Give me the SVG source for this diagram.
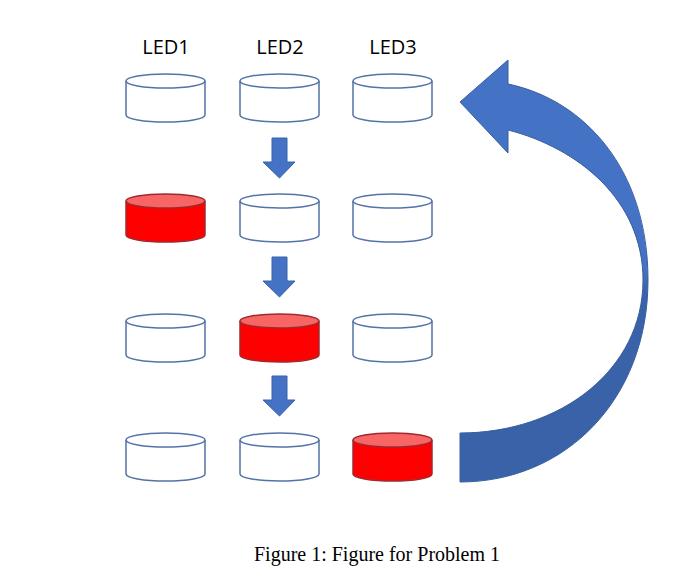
<svg xmlns="http://www.w3.org/2000/svg" width="700" height="583" viewBox="0 0 700 583">
<style>
.w path{fill:#fff;stroke:#5373a6;stroke-width:1.5}
.w ellipse{fill:#fff;stroke:#5373a6;stroke-width:1.5}
.r path{fill:#ff0000;stroke:#9e2a2f;stroke-width:1.5}
.r ellipse{fill:#f76565;stroke:#9e2a2f;stroke-width:1.5}
.lbl{font-family:"Open Sans","Liberation Sans",sans-serif;font-size:20px;fill:#000;text-anchor:middle}
.dn{fill:#4472c4;stroke:#3a62a8;stroke-width:1}
</style>
<defs><linearGradient id="g" x1="0" y1="0" x2="0" y2="1"><stop offset="0.5" stop-color="#4472c4"/><stop offset="0.55" stop-color="#3a62a8"/></linearGradient></defs>
<rect width="700" height="583" fill="#fff"/>
<text class="lbl" x="166" y="54">LED1</text>
<text class="lbl" x="280" y="54">LED2</text>
<text class="lbl" x="393" y="54">LED3</text>
<g id="r1c1" class="w" transform="translate(126,73)"><path d="M0,8 L0,42 A39.5,7 0 0 0 79,42 L79,8"/><ellipse cx="39.5" cy="8" rx="39.5" ry="7"/></g>
<g id="r1c2" class="w" transform="translate(240,73)"><path d="M0,8 L0,42 A39.5,7 0 0 0 79,42 L79,8"/><ellipse cx="39.5" cy="8" rx="39.5" ry="7"/></g>
<g id="r1c3" class="w" transform="translate(353,73)"><path d="M0,8 L0,42 A39.5,7 0 0 0 79,42 L79,8"/><ellipse cx="39.5" cy="8" rx="39.5" ry="7"/></g>
<g id="r2c1" class="r" transform="translate(126,193)"><path d="M0,8 L0,42 A39.5,7 0 0 0 79,42 L79,8"/><ellipse cx="39.5" cy="8" rx="39.5" ry="7"/></g>
<g id="r2c2" class="w" transform="translate(240,193)"><path d="M0,8 L0,42 A39.5,7 0 0 0 79,42 L79,8"/><ellipse cx="39.5" cy="8" rx="39.5" ry="7"/></g>
<g id="r2c3" class="w" transform="translate(353,193)"><path d="M0,8 L0,42 A39.5,7 0 0 0 79,42 L79,8"/><ellipse cx="39.5" cy="8" rx="39.5" ry="7"/></g>
<g id="r3c1" class="w" transform="translate(126,313)"><path d="M0,8 L0,42 A39.5,7 0 0 0 79,42 L79,8"/><ellipse cx="39.5" cy="8" rx="39.5" ry="7"/></g>
<g id="r3c2" class="r" transform="translate(240,313)"><path d="M0,8 L0,42 A39.5,7 0 0 0 79,42 L79,8"/><ellipse cx="39.5" cy="8" rx="39.5" ry="7"/></g>
<g id="r3c3" class="w" transform="translate(353,313)"><path d="M0,8 L0,42 A39.5,7 0 0 0 79,42 L79,8"/><ellipse cx="39.5" cy="8" rx="39.5" ry="7"/></g>
<g id="r4c1" class="w" transform="translate(126,432)"><path d="M0,8 L0,42 A39.5,7 0 0 0 79,42 L79,8"/><ellipse cx="39.5" cy="8" rx="39.5" ry="7"/></g>
<g id="r4c2" class="w" transform="translate(240,432)"><path d="M0,8 L0,42 A39.5,7 0 0 0 79,42 L79,8"/><ellipse cx="39.5" cy="8" rx="39.5" ry="7"/></g>
<g id="r4c3" class="r" transform="translate(353,432)"><path d="M0,8 L0,42 A39.5,7 0 0 0 79,42 L79,8"/><ellipse cx="39.5" cy="8" rx="39.5" ry="7"/></g>
<g id="connectors">
<path class="dn" d="M272,138 H287 V162 H295 L279.5,178 L263,162 H272 Z"/>
<path class="dn" d="M272,257 H287 V281 H295 L279.5,297 L263,281 H272 Z"/>
<path class="dn" d="M272,376 H287 V400 H295 L279.5,416 L263,400 H272 Z"/>
<path fill="url(#g)" stroke="#3a5f9e" stroke-width="1" d="M460,482 C565,482 648,400 648,280 C648,170 585,100 508,84 L508,60 L460,102 L508,153 L508,130 C578,148 643,200 643,280 C643,370 560,433 460,433 Z"/>
</g>
<text x="377" y="561" font-family="Liberation Serif,serif" font-size="20" text-anchor="middle">Figure 1: Figure for Problem 1</text>
</svg>
